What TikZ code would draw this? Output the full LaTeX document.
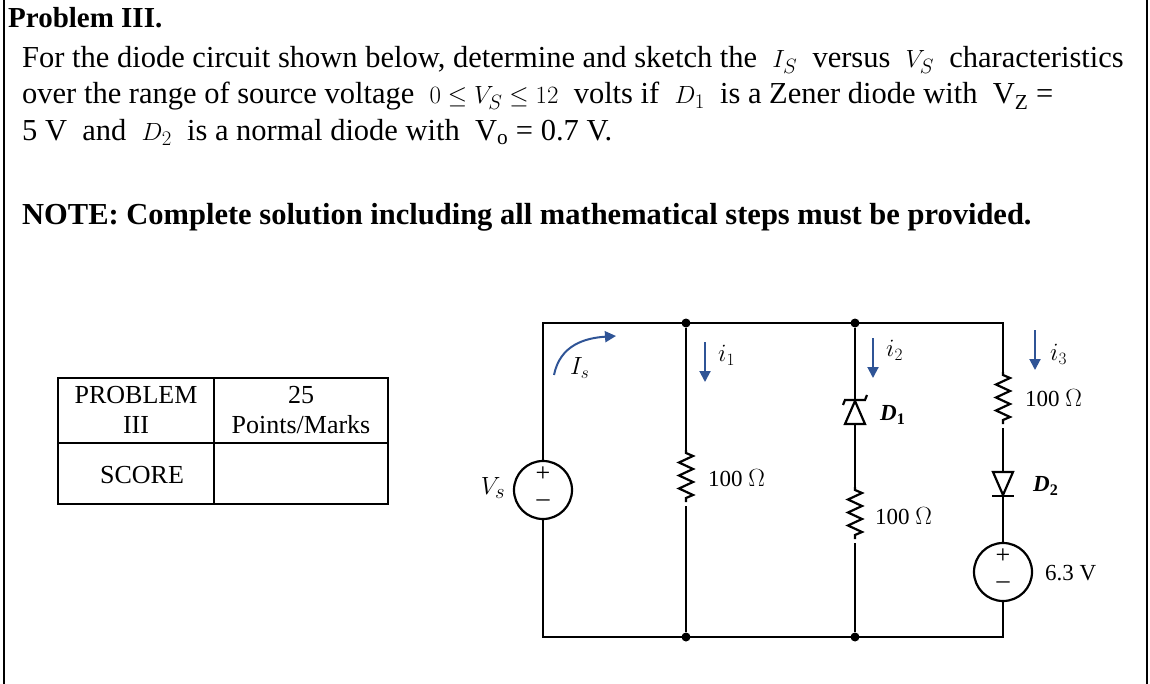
\documentclass[tikz,border=0pt]{standalone}
\usepackage{fontspec}
\setmainfont{Liberation Serif}
\usetikzlibrary{arrows.meta}
\tikzset{
  txt/.style={anchor=base west,inner sep=0pt},
  wire/.style={line width=2.2pt},
  cur/.style={draw={rgb,255:red,47;green,84;blue,150},line width=2pt,-{Triangle[length=11pt,width=11pt]}},
  dot/.style={circle,fill,inner sep=0pt,minimum size=9pt},
  src/.style={circle,draw,line width=2.2pt,minimum size=58pt,inner sep=0pt},
  lbl/.style={inner sep=0pt,font=\fontsize{23}{24}\selectfont},
  pm/.style={font=\fontsize{26}{26}\selectfont},
  cell/.style={inner sep=0pt,font=\fontsize{26}{30}\selectfont,align=center}
}
\newcommand{\zz}[2]{% resistor at x=#1 from y=#2 to y=#2+56
  \draw[wire] (#1,#2) -- ++(0,3) -- ++(7,3) -- ++(-14,6.5) -- ++(14,6.5) -- ++(-14,6.5) -- ++(14,6.5) -- ++(-14,6.5) -- ++(14,6.5) -- ++(-7,3) -- ++(0,4);}
\begin{document}
\begin{tikzpicture}[x=1pt,y=-1pt]
\useasboundingbox (0,0) rectangle (1150,684);
\draw[line width=1.5pt] (4,0) -- (4,684);
\draw[line width=1.5pt] (1147,0) -- (1147,684);
\node[txt,font=\bfseries\fontsize{29}{30}\selectfont] (title) at (8,28) {Problem III.};
\node[txt,font=\fontsize{30.5}{36}\selectfont] (l1) at (22,68) {For the diode circuit shown below, determine and sketch the \ $I_S$ \ versus \ $V_S$ \ characteristics};
\node[txt,font=\fontsize{30.5}{36}\selectfont] (l2) at (22,104) {over the range of source voltage \ $0\le V_S\le 12$ \ volts if \ $D_1$ \ is a Zener diode with \ V$_{\mathrm{Z}}$ =};
\node[txt,font=\fontsize{30.5}{36}\selectfont] (l3) at (22,141) {5 V \ and \ $D_2$ \ is a normal diode with \ V$_{\mathrm{o}}$ = 0.7 V.};
\node[txt,font=\bfseries\fontsize{30.5}{30}\selectfont] (note) at (22,225) {NOTE: Complete solution including all mathematical steps must be provided.};
% table
\draw[line width=1.6pt] (58,378) rectangle (388,504);
\draw[line width=1.6pt] (214,378) -- (214,504);
\draw[line width=1.6pt] (58,443) -- (388,443);
\node[cell] (c1) at (136,410) {PROBLEM\\III};
\node[cell] (c2) at (301,410) {25\\Points/Marks};
\node[cell] (c3) at (142,475) {SCORE};
% circuit wires
\coordinate (tl) at (543,323); \coordinate (tr) at (1003,323);
\coordinate (bl) at (543,637); \coordinate (br) at (1003,637);
\node[dot] (t1) at (686,323) {}; \node[dot] (t2) at (855,323) {};
\node[dot] (b1) at (686,637) {}; \node[dot] (b2) at (855,637) {};
\node[src] (vs) at (543,490) {};
\node[src] (v63) at (1003,572) {};
\draw[wire] (vs.north) -- (tl) -- (tr) -- (1003,372);
\draw[wire] (vs.south) -- (bl) -- (br) -- (v63.south);
\node[pm] at (543,474) {+};
\node[pm] at (543,503) {--};
\node[pm] at (1003,556) {+};
\node[pm] at (1003,585) {--};
\node[lbl,font=\fontsize{28}{28}\selectfont] (vsl) at (493,488) {$V_s$};
% branch 1
\zz{686}{450}
\draw[wire] (t1) -- (686,450); \draw[wire] (686,506) -- (b1);
\node[lbl,anchor=west] at (708,478) {100 $\Omega$};
% branch 2 : zener pointing up
\draw[wire] (t2) -- (855,400);
\draw[wire] (845,424) -- (865,424) -- (855,401) -- cycle;
\draw[wire] (843,405) -- (845,400) -- (865,400) -- (867,395);
\draw[wire] (855,424) -- (855,487);
\zz{855}{487}
\draw[wire] (855,543) -- (b2);
\node[lbl,anchor=west] at (880,415) {\textbf{\textit{D}}$_{\mathbf{1}}$};
\node[lbl,anchor=west] at (875,516) {100 $\Omega$};
% branch 3
\zz{1003}{372}
\node[lbl,anchor=west] at (1025,398) {100 $\Omega$};
\draw[wire] (1003,428) -- (1003,472);
\draw[wire] (993,472) -- (1013,472) -- (1003,495) -- cycle;
\draw[wire] (992,496) -- (1014,496);
\draw[wire] (1003,496) -- (v63.north);
\node[lbl,anchor=west] at (1033,486) {\textbf{\textit{D}}$_{\mathbf{2}}$};
\node[lbl,anchor=west] at (1045,573) {6.3 V};
% currents
\draw[cur] (705,342) -- (705,382);
\node[lbl,anchor=west] at (718,355) {$i_1$};
\draw[cur] (873,338) -- (873,378);
\node[lbl,anchor=west] at (886,350) {$i_2$};
\draw[cur] (1035,330) -- (1035,370);
\node[lbl,anchor=west] at (1050,354) {$i_3$};
\draw[cur] (554,375) .. controls (560,345) and (585,338) .. (616,336);
\node[lbl,anchor=west,font=\fontsize{27}{27}\selectfont] at (570,368) {$I_s$};
\end{tikzpicture}
\end{document}
